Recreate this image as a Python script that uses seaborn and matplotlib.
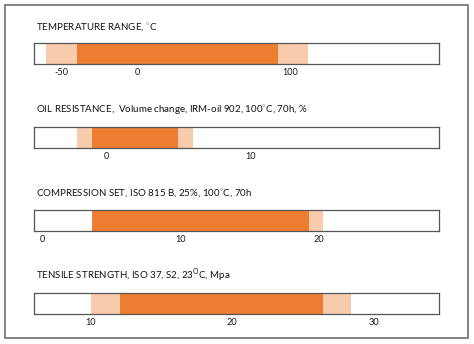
import matplotlib
matplotlib.use("Agg")
import matplotlib.pyplot as plt
from matplotlib.patches import Rectangle
import seaborn as sns

sns.set_theme(style="white")
plt.rcParams['font.family'] = ['Lato', 'DejaVu Sans']
plt.rcParams['mathtext.fontset'] = 'custom'
plt.rcParams['mathtext.rm'] = 'Lato'

# ---- data ----
titles = [
    r"TEMPERATURE RANGE, $^{\circ}$C",
    r"OIL RESISTANCE,  Volume change, IRM-oil 902, 100$^{\circ}$C, 70h, %",
    r"COMPRESSION SET, ISO 815 B, 25%, 100$^{\circ}$C, 70h",
    r"TENSILE STRENGTH, ISO 37, S2, 23$^{\mathrm{O}}$C, Mpa",
]
outer_lo = [-60, -2, 3.6, 10]
outer_hi = [112, 6, 20.3, 28.4]
inner_lo = [-40, -1, 3.6, 12.1]
inner_hi = [92, 5, 19.3, 26.4]
axis_lo = [-68, -5.0, -0.6, 6.0]
axis_hi = [198, 23.1, 28.7, 34.6]
tick_vals = [[-50, 0, 100], [0, 10], [0, 10, 20], [10, 20, 30]]
tick_labels = [["-50", "0", "100"], ["0", "10"], ["0", "10", "20"], ["10", "20", "30"]]

# ---- layout (pixels) ----
W, H = 474, 344
bar_top = [43, 127, 210, 293]
bar_h = 20.5
bar_x0, bar_x1 = 34, 439
title_y = [27, 110, 193, 275]

light = "#F8CBAD"
dark = "#ED7D31"

fig = plt.figure(figsize=(W / 100, H / 100), dpi=100)
fig.patch.set_facecolor("white")

for i in range(4):
    ax = fig.add_axes([bar_x0 / W, 1 - (bar_top[i] + bar_h) / H,
                       (bar_x1 - bar_x0) / W, bar_h / H])
    ax.barh(0, outer_hi[i] - outer_lo[i], left=outer_lo[i], height=1.0,
            color=light, linewidth=0)
    ax.barh(0, inner_hi[i] - inner_lo[i], left=inner_lo[i], height=1.0,
            color=dark, linewidth=0)
    ax.set_xlim(axis_lo[i], axis_hi[i])
    ax.set_ylim(-0.5, 0.5)
    ax.set_yticks([])
    ax.set_xticks(tick_vals[i])
    ax.set_xticklabels(tick_labels[i], fontsize=6.6, color="#1a1a1a")
    ax.tick_params(axis="x", length=0, pad=3)
    for s in ax.spines.values():
        s.set_visible(True)
        s.set_color("#555555")
        s.set_linewidth(0.9)
    ax.set_facecolor("white")
    fig.text(36 / W, 1 - title_y[i] / H, titles[i], fontsize=7.0,
             color="#111111", va="center", ha="left")

frame = Rectangle((5 / W, 1 - 338 / H), 463 / W, 333 / H,
                  transform=fig.transFigure, fill=False,
                  edgecolor="#7a7a7a", linewidth=1.3)
fig.add_artist(frame)

fig.savefig("out.png", dpi=100, facecolor="white")
